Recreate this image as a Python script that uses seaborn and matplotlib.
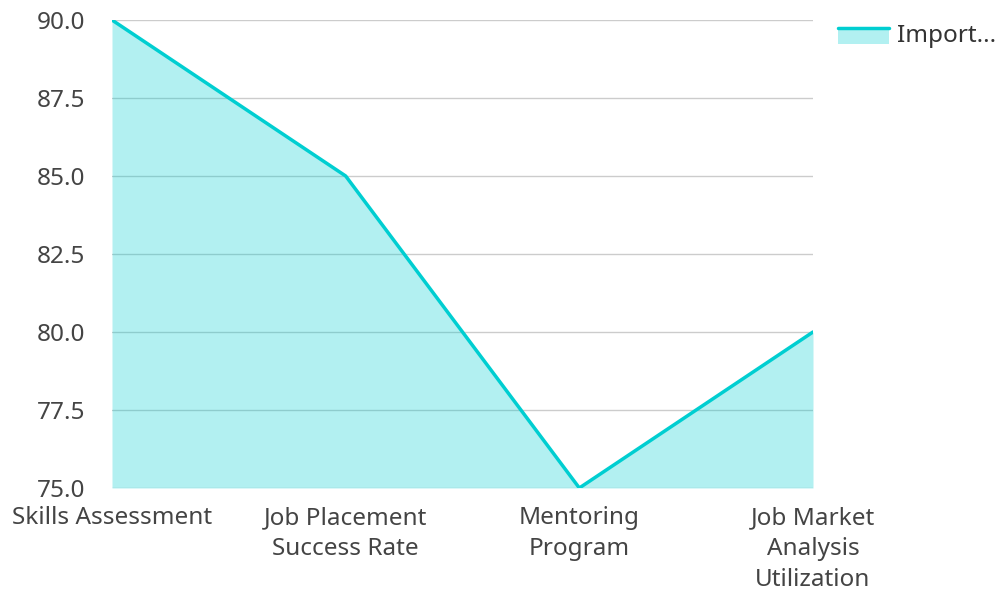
import matplotlib
matplotlib.use("Agg")
import matplotlib.pyplot as plt
import seaborn as sns
import pandas as pd
from matplotlib.patches import Rectangle
from matplotlib.lines import Line2D
from matplotlib.legend_handler import HandlerBase

categories = ["Skills Assessment", "Job Placement\nSuccess Rate", "Mentoring\nProgram", "Job Market\nAnalysis\nUtilization"]
values = [90, 85, 75, 80]
series_name = "Import..."
yticks = [75.0, 77.5, 80.0, 82.5, 85.0, 87.5, 90.0]

sns.set_theme(style="white")
plt.rcParams['font.family'] = ['Noto Sans', 'DejaVu Sans']

line_color = "#00CED1"
df = pd.DataFrame({"x": range(len(categories)), "y": values})

fig = plt.figure(figsize=(10, 5.92), dpi=100)
ax = fig.add_axes([0.112, 0.1757, 0.701, 0.7905])

for t in yticks:
    ax.axhline(t, color="#cccccc", lw=1, zorder=0)

ax.fill_between(df["x"], df["y"], 75, color=line_color, alpha=0.3, lw=0, zorder=1)
sns.lineplot(data=df, x="x", y="y", ax=ax, color=line_color, lw=2.5, zorder=3)

ax.set_xlim(0, len(categories) - 1)
ax.set_ylim(75, 90)
ax.set_yticks(yticks)
ax.set_yticklabels([f"{t:.1f}" for t in yticks])
ax.set_xticks(range(len(categories)))
ax.set_xticklabels(categories, linespacing=1.38)
ax.set_xlabel("")
ax.set_ylabel("")
ax.tick_params(axis="both", length=0, labelsize=17.5, colors="#444444")
ax.tick_params(axis="y", pad=19)
ax.tick_params(axis="x", pad=13)
for s in ax.spines.values():
    s.set_visible(False)


class AreaHandler(HandlerBase):
    def create_artists(self, legend, orig_handle, xdescent, ydescent, width, height, fontsize, trans):
        top = height * 0.8
        rect = Rectangle((-xdescent, -ydescent - height * 0.15), width, top + height * 0.15,
                         facecolor=line_color, alpha=0.3, edgecolor="none", transform=trans)
        ln = Line2D([-xdescent, -xdescent + width], [-ydescent + top, -ydescent + top],
                    color=line_color, lw=2.5, transform=trans)
        return [rect, ln]


proxy = Line2D([0], [0], color=line_color)
fig.legend([proxy], [series_name], loc="upper left", bbox_to_anchor=(0.816, 0.997),
           frameon=False, fontsize=17.5, labelcolor="#333333", handlelength=2.1, handletextpad=0.35,
           handler_map={Line2D: AreaHandler()})

fig.savefig("out.png", dpi=100)
